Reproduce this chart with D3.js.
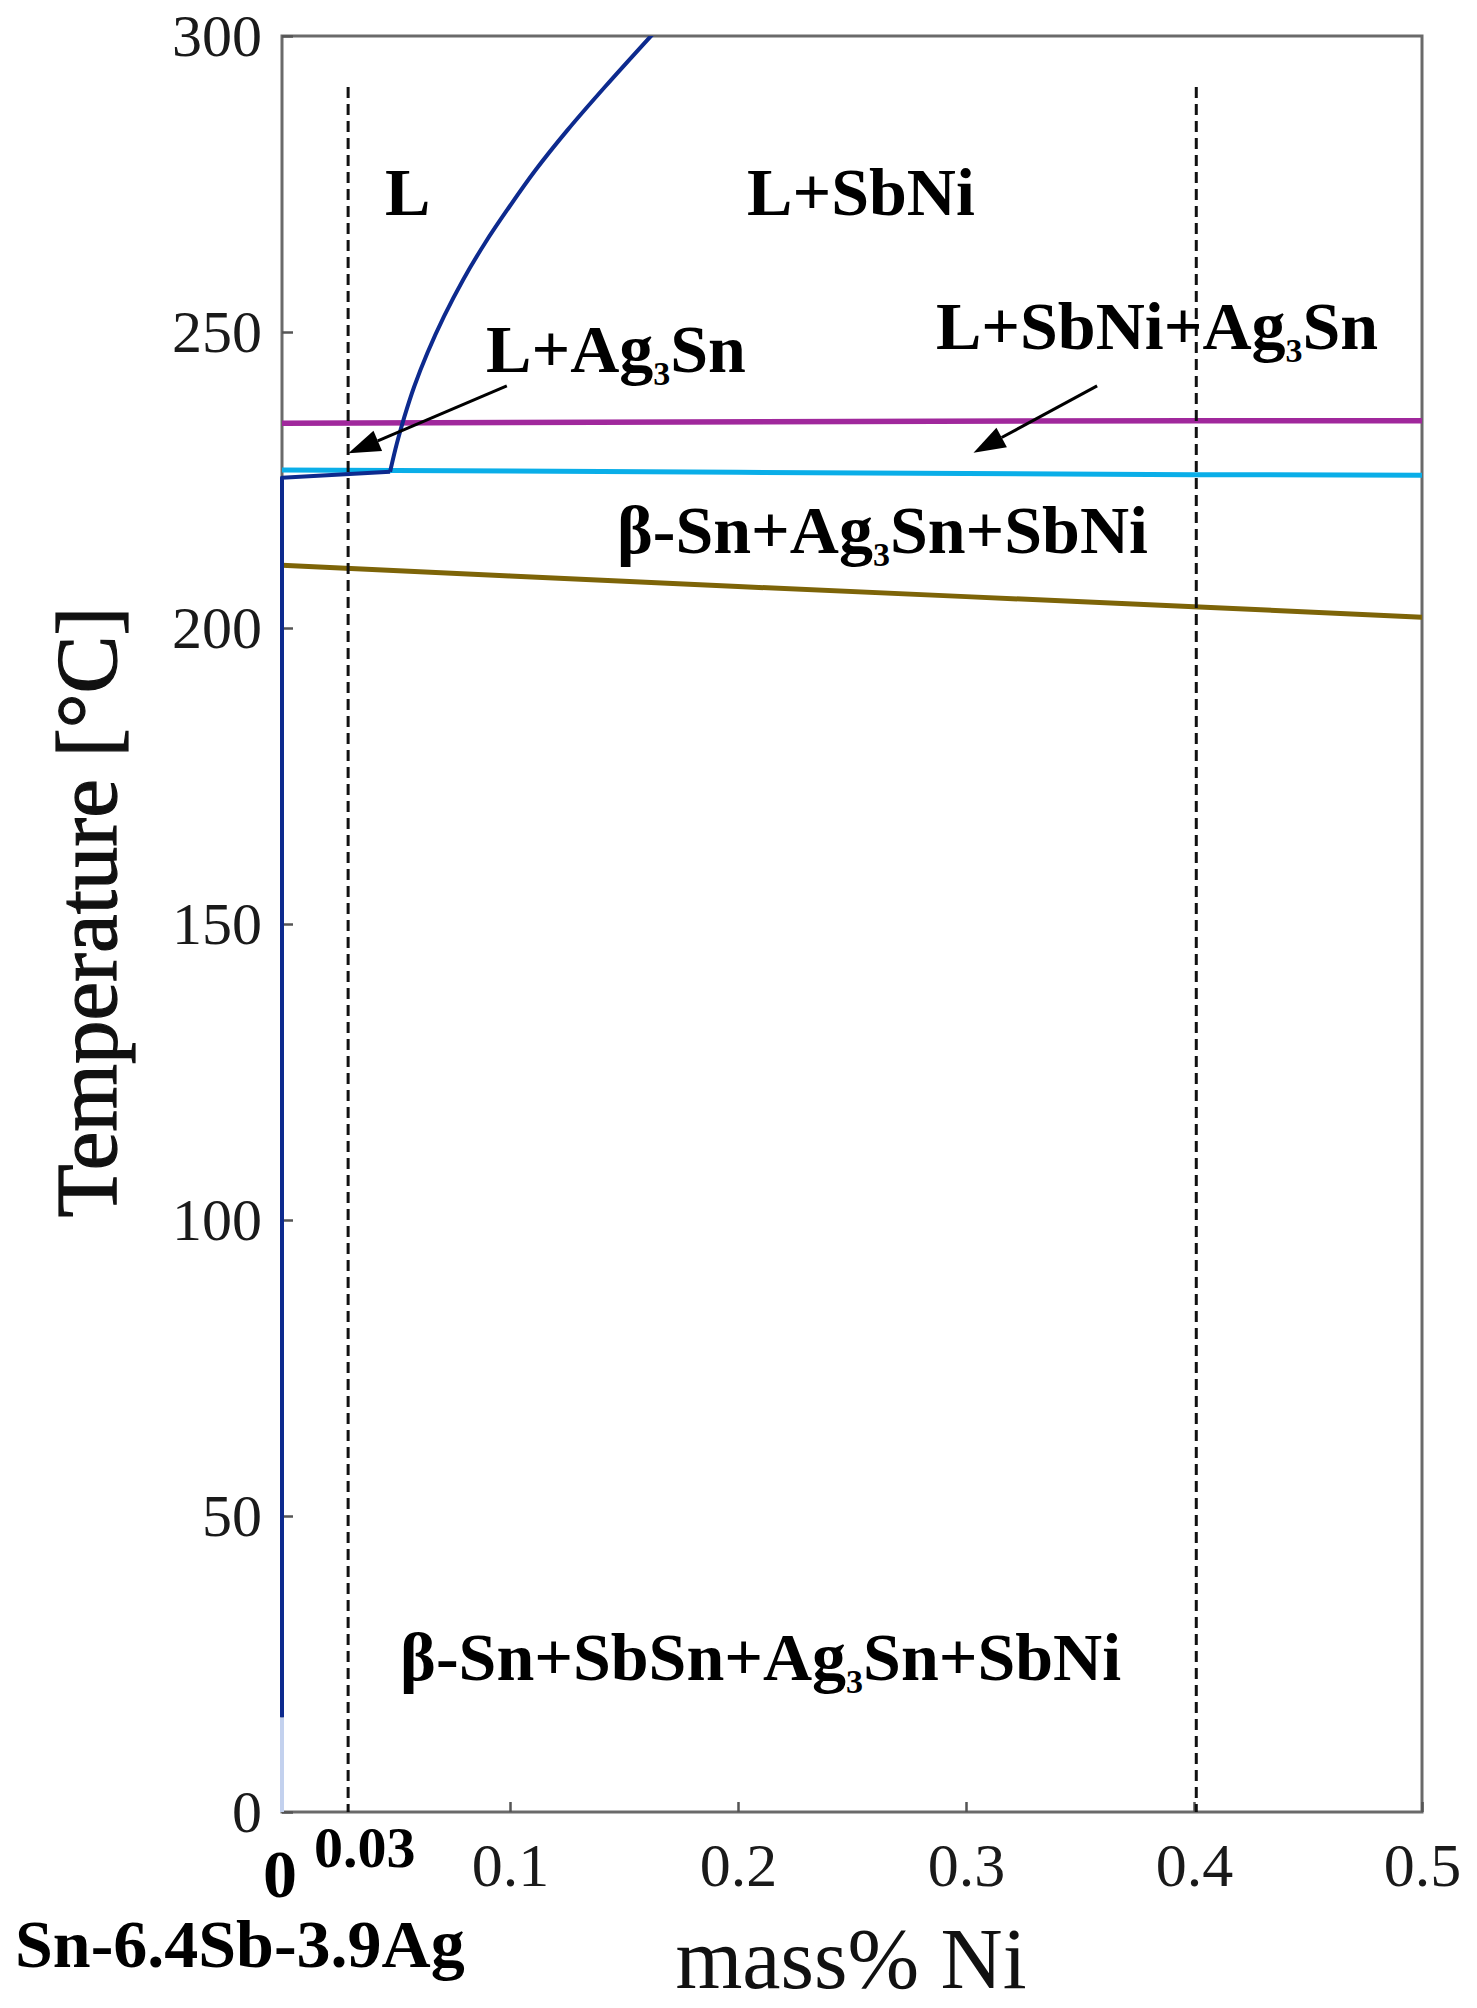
<!DOCTYPE html>
<html>
<head>
<meta charset="utf-8">
<script src="https://cdn.jsdelivr.net/npm/d3@7/dist/d3.min.js"></script>
<style>
  html, body { margin: 0; padding: 0; background: #fff; }
  svg { display: block; }
</style>
</head>
<body>
<script>
// ---------------- data ----------------
const xTicks = [0.1, 0.2, 0.3, 0.4, 0.5];
const yTicks = [0, 50, 100, 150, 200, 250, 300];

// dark-blue liquidus / solidus boundary
const blueLow   = [[0, 0], [0, 16]];                       // faint part near the bottom
const blueStep  = [[0, 16], [0, 225.4], [0.0474, 226.4]];
const blueCurve = [[0.0474, 226.4], [0.0504, 231.2], [0.0537, 235.7], [0.0580, 240.8],
                   [0.0638, 246.5], [0.0710, 252.6], [0.0794, 258.8], [0.0890, 265.0],
                   [0.0998, 271.2], [0.1113, 277.4], [0.1252, 284.1], [0.1414, 291.3],
                   [0.1623, 300.2]];
const purpleLine = [[0, 234.6], [0.1, 234.7], [0.25, 234.9], [0.4, 235.0], [0.5, 235.0]];
const cyanLine   = [[0, 226.7], [0.1, 226.5], [0.2, 226.3], [0.3, 226.1], [0.4, 225.9], [0.5, 225.8]];
const oliveLine  = [[0, 210.6], [0.1, 208.8], [0.2, 207.0], [0.3, 205.3], [0.4, 203.6], [0.5, 201.8]];

const dashedX   = [0.029, 0.401];
const dashedTop = 291.4;

// region labels: text ("_3" marks subscript 3), x (mass% Ni), T (°C) of baseline start
const regionText = ["L", "L+SbNi", "L+Ag_3Sn", "L+SbNi+Ag_3Sn", "β-Sn+Ag_3Sn+SbNi", "β-Sn+SbSn+Ag_3Sn+SbNi"];
const regionX    = [0.0452, 0.204, 0.0895, 0.2868, 0.1469, 0.0518];
const regionT    = [269.8, 269.8, 243.2, 247.1, 212.7, 22.3];

// arrows: [fromX, fromT, toX, toT]
const arrows = [[0.0986, 240.9, 0.0291, 229.5], [0.3575, 240.9, 0.3033, 229.6]];

// ---------------- layout ----------------
const W = 1477, H = 2008;
const L = 282, R = 1422, T = 36, B = 1812;
const serif = "'Liberation Serif', 'Times New Roman', Times, serif";

const svg = d3.select("body").append("svg").attr("width", W).attr("height", H)
  .style("font-family", serif);
svg.append("rect").attr("width", W).attr("height", H).attr("fill", "#fff");

const x = d3.scaleLinear().domain([0, 0.5]).range([L, R]);
const y = d3.scaleLinear().domain([0, 300]).range([B, T]);

svg.append("defs").append("clipPath").attr("id", "plotclip")
  .append("rect").attr("x", L - 4).attr("y", T).attr("width", R - L + 8).attr("height", B - T);

// frame
svg.append("rect").attr("x", L).attr("y", T).attr("width", R - L).attr("height", B - T)
  .attr("fill", "none").attr("stroke", "#6a6a6a").attr("stroke-width", 3);

// axes
const yAxis = d3.axisLeft(y).tickValues(yTicks).tickSize(-11).tickPadding(20).tickFormat(d3.format("d"));
const gy = svg.append("g").attr("transform", `translate(${L},0)`).call(yAxis);
gy.select(".domain").remove();
gy.selectAll(".tick line").attr("stroke", "#555").attr("stroke-width", 2.5);
gy.selectAll(".tick text").attr("font-size", 60).attr("font-family", serif).attr("fill", "#1a1a1a");

const xAxis = d3.axisBottom(x).tickValues(xTicks).tickSize(-10).tickPadding(30).tickFormat(d3.format(".1f"));
const gx = svg.append("g").attr("transform", `translate(0,${B})`).call(xAxis);
gx.select(".domain").remove();
gx.selectAll(".tick line").attr("stroke", "#555").attr("stroke-width", 2.5);
gx.selectAll(".tick text").attr("font-size", 62).attr("font-family", serif).attr("fill", "#1a1a1a");

// lines
const line = d3.line().x(d => x(d[0])).y(d => y(d[1]));
const smooth = d3.line().x(d => x(d[0])).y(d => y(d[1])).curve(d3.curveCatmullRom.alpha(0.5));
const plot = svg.append("g").attr("clip-path", "url(#plotclip)");

plot.append("path").datum(oliveLine).attr("d", line)
  .attr("fill", "none").attr("stroke", "#7d6408").attr("stroke-width", 5);
plot.append("path").datum(cyanLine).attr("d", line)
  .attr("fill", "none").attr("stroke", "#0aaee8").attr("stroke-width", 5);
plot.append("path").datum(purpleLine).attr("d", line)
  .attr("fill", "none").attr("stroke", "#a0289c").attr("stroke-width", 5.5);
plot.append("path").datum(blueLow).attr("d", line)
  .attr("fill", "none").attr("stroke", "#c3d1ee").attr("stroke-width", 4);
plot.append("path").datum(blueStep).attr("d", line)
  .attr("fill", "none").attr("stroke", "#0d2a8e").attr("stroke-width", 4).attr("stroke-linejoin", "round");
plot.append("path").datum(blueCurve).attr("d", smooth)
  .attr("fill", "none").attr("stroke", "#0d2a8e").attr("stroke-width", 4);

// dashed composition lines
svg.append("g").selectAll("line").data(dashedX).join("line")
  .attr("x1", d => x(d)).attr("x2", d => x(d))
  .attr("y1", y(dashedTop)).attr("y2", y(0))
  .attr("stroke", "#111").attr("stroke-width", 3).attr("stroke-dasharray", "11,6");

// arrows
const ag = svg.append("g");
arrows.forEach(a => {
  const x1 = x(a[0]), y1 = y(a[1]), x2 = x(a[2]), y2 = y(a[3]);
  const ang = Math.atan2(y2 - y1, x2 - x1);
  const hl = 32, hw = 11;
  const bx = x2 - hl * Math.cos(ang), by = y2 - hl * Math.sin(ang);
  ag.append("line").attr("x1", x1).attr("y1", y1).attr("x2", bx).attr("y2", by)
    .attr("stroke", "#000").attr("stroke-width", 3);
  const px = -Math.sin(ang) * hw, py = Math.cos(ang) * hw;
  ag.append("polygon")
    .attr("points", `${x2},${y2} ${bx + px},${by + py} ${bx - px},${by - py}`)
    .attr("fill", "#000");
});

// region labels
const lg = svg.append("g").attr("font-weight", "bold").attr("font-size", 68).attr("fill", "#000");
regionText.forEach((t, i) => {
  const txt = lg.append("text").attr("x", x(regionX[i])).attr("y", y(regionT[i]));
  const parts = t.split("_3");
  parts.forEach((p, j) => {
    if (j > 0) {
      txt.append("tspan").attr("font-size", 34).attr("dy", 13).text("3");
      txt.append("tspan").attr("dy", -13).text(p);
    } else {
      txt.append("tspan").text(p);
    }
  });
});

// special x labels
svg.append("text").attr("x", x(0) - 2).attr("y", 1897).attr("text-anchor", "middle")
  .attr("font-weight", "bold").attr("font-size", 68).text("0");
svg.append("text").attr("x", 314).attr("y", 1867)
  .attr("font-weight", "bold").attr("font-size", 58).text("0.03");
svg.append("text").attr("x", 15).attr("y", 1967)
  .attr("font-weight", "bold").attr("font-size", 68).text("Sn-6.4Sb-3.9Ag");

// axis titles
svg.append("text").attr("x", 851).attr("y", 1988).attr("text-anchor", "middle")
  .attr("font-size", 86).attr("fill", "#111").text("mass% Ni");
svg.append("text").attr("transform", "translate(116,912) rotate(-90)").attr("text-anchor", "middle")
  .attr("font-size", 87).attr("fill", "#111").attr("stroke", "#111").attr("stroke-width", 1.2)
  .text("Temperature [°C]");
</script>
</body>
</html>
